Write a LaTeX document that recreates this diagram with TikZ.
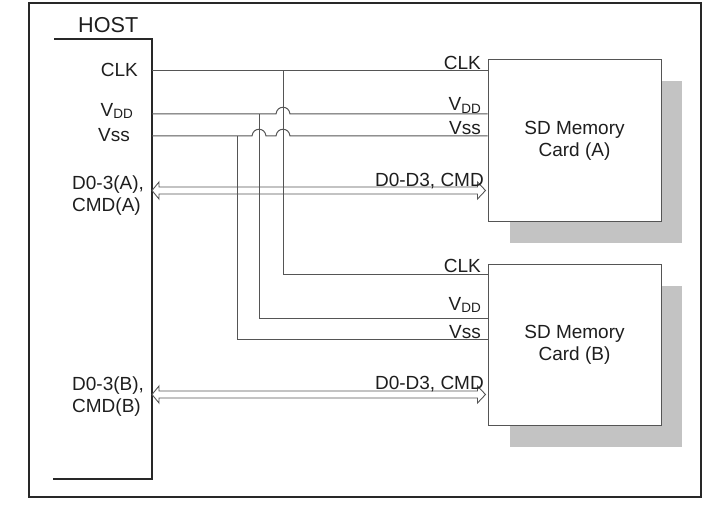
\documentclass[tikz,border=0pt]{standalone}
\usepackage{fontspec}
\setmainfont{Liberation Sans}
\usetikzlibrary{calc}
\definecolor{framecolor}{RGB}{40,40,40}
\definecolor{wirecolor}{RGB}{85,85,85}
\definecolor{shadowcolor}{RGB}{195,195,195}
\definecolor{textcolor}{RGB}{30,30,30}
\newcommand{\lowtxt}[1]{\raisebox{-2pt}{\fontsize{13.5}{13.5}\selectfont #1}}

\tikzset{
  wire/.style={wirecolor, line width=1pt},
  bus/.style={wirecolor, line width=0.9pt, line join=miter},
  card/.style={draw=wirecolor, fill=white, line width=1pt, minimum width=173pt,
    minimum height=161pt, align=center, inner sep=0pt},
  lbl/.style={anchor=base east, inner sep=0pt},
}

\begin{document}
\begin{tikzpicture}[x=1pt, y=-1pt, font=\fontsize{19}{22}\selectfont,
    every node/.style={text=textcolor}]
    \useasboundingbox (0,0) rectangle (720,508);
    \draw[framecolor, line width=1.2pt] (29,3) rectangle (701,497);

    % host
    \draw[framecolor, line width=1.5pt] (54,39) -- (152,39) -- (152,479) -- (53,479);
    \node[anchor=base west, inner sep=0pt, font=\fontsize{21.6}{26}\selectfont] (host) at (78,32.5) {HOST};
    \coordinate (hclk) at (152,71);
    \coordinate (hvdd) at (152,114);
    \coordinate (hvss) at (152,136);
    \coordinate (hbusA) at (152,190.5);
    \coordinate (hbusB) at (152,394.5);

    % cards
    \foreach \c/\y in {A/140.5, B/345}
    {
        \fill[shadowcolor] (510,\y-59) rectangle (682,\y+102);
        \node[card] (card\c) at (574.5,\y) {SD Memory\\Card (\c)};
    }

    % data buses (hollow double arrows)
    \foreach \c in {A,B}
    {
        \coordinate (cbus\c) at ($(hbus\c -| card\c.west)+(-2,0)$);
        \draw[bus] (hbus\c) -- ++(7,-8.5) -- ++(0,5) -- ($(cbus\c)+(-8,-3.5)$)
            -- ++(0,-5) -- (cbus\c) -- ++(-8,8.5) -- ++(0,-5)
            -- ($(hbus\c)+(7,3.5)$) -- ++(0,5) -- cycle;
    }

    % taps of card B
    \coordinate (tclk) at (283,71);
    \coordinate (tvdd) at (259,114);
    \coordinate (tvss) at (237,136);
    \coordinate (bclk) at (488,274);
    \coordinate (bvdd) at (488,318);
    \coordinate (bvss) at (488,339);

    % supply and clock wires
    \draw[wire] (hclk) -- (hclk -| cardA.west);
    \draw[wire] (hvdd) -- (276,114) .. controls (277,105) and (289,105) .. (290,114)
        -- (hvdd -| cardA.west);
    \draw[wire] (hvss) -- (252,136) .. controls (253,127) and (265,127) .. (266,136)
        -- (276,136) .. controls (277,127) and (289,127) .. (290,136)
        -- (hvss -| cardA.west);
    \draw[wire] (tclk) |- (bclk);
    \draw[wire] (tvdd) |- (bvdd);
    \draw[wire] (tvss) |- (bvss);

    % host labels
    \node[lbl] at (138,76.5) {CLK};
    \node[lbl] at (133,117) {V\lowtxt{DD}};
    \node[lbl] at (130,141.5) {Vss};
    \node[anchor=north west, align=left, inner sep=0pt] at (72,175.5) {D0-3(A),\\CMD(A)};
    \node[anchor=north west, align=left, inner sep=0pt] at (72,376.5) {D0-3(B),\\CMD(B)};

    % card labels
    \node[lbl] at (481,69.5) {CLK};
    \node[lbl] at (481,111) {V\lowtxt{DD}};
    \node[lbl] at (481,134.5) {Vss};
    \node[lbl] at (484,186) {D0-D3, CMD};
    \node[lbl] at (481,272.5) {CLK};
    \node[lbl] at (481,310) {V\lowtxt{DD}};
    \node[lbl] at (481,338) {Vss};
    \node[lbl] at (484,389) {D0-D3, CMD};
\end{tikzpicture}
\end{document}
